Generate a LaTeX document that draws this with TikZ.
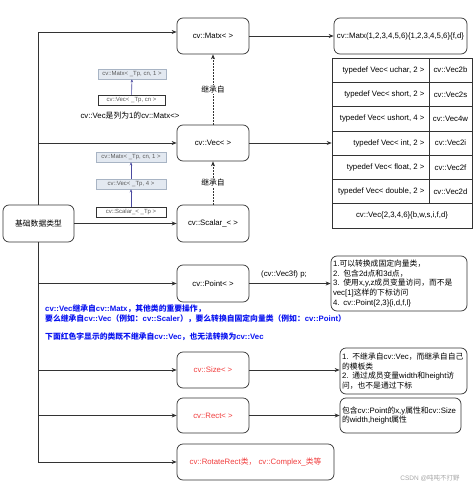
\documentclass[tikz,border=0pt]{standalone}
\usepackage{fontspec}
\setmainfont{Liberation Sans}
\newfontfamily\cjk{Noto Sans CJK SC}
\newcommand\zh[1]{{\cjk #1}}
\usetikzlibrary{arrows.meta}
\definecolor{lc}{HTML}{333333}
\definecolor{sbfill}{HTML}{E3E9F1}
\definecolor{sbdraw}{HTML}{A8B4C4}
\definecolor{sbarrow}{HTML}{4A4AA0}
\definecolor{bluetxt}{HTML}{0A14F0}
\definecolor{redtxt}{HTML}{F03C3C}
\begin{document}
\begin{tikzpicture}[x=1pt,y=-1pt,
  every node/.style={font=\fontsize{7.8}{9.7}\selectfont, text=black},
  box/.style={draw=lc, rounded corners=6pt, line width=0.7pt, inner sep=1pt},
  cell/.style={draw=lc, line width=0.6pt},
  arr/.style={draw=lc, line width=0.7pt, -{Stealth[length=5pt,width=4pt]}},
  dotarr/.style={draw=lc, line width=0.7pt, dash pattern=on 1.5pt off 1.5pt, -{Stealth[length=5pt,width=4pt]}},
  small/.style={font=\fontsize{6}{7}\selectfont, text=black!65, inner sep=0pt, line width=0.5pt},
  sbox/.style={small, draw=sbdraw, fill=sbfill},
  wbox/.style={small, draw=lc, fill=white},
  sarr/.style={draw=sbarrow, line width=0.6pt, -{Stealth[length=3pt,width=2.5pt]}},
  lbl/.style={fill=white, inner sep=1pt},
  red/.style={text=redtxt}
]
\useasboundingbox (0,0) rectangle (474,487);

% main boxes
\node[box, minimum width=72pt, minimum height=36pt] (matx) at (213,36) {cv::Matx< >};
\node[box, minimum width=72pt, minimum height=36pt] (vec) at (213,143) {cv::Vec< >};
\node[box, minimum width=72pt, minimum height=37pt] (scalar) at (213,223.5) {cv::Scalar\_< >};
\node[box, minimum width=71pt, minimum height=37pt] (base) at (38.5,223.5) {\zh{基础数据类型}};
\node[box, minimum width=72pt, minimum height=37pt] (point) at (213,283.5) {cv::Point< >};
\node[box, red, minimum width=72pt, minimum height=36pt] (size) at (213,370) {cv::Size< >};
\node[box, red, minimum width=72pt, minimum height=35pt] (rect) at (213,415.5) {cv::Rect< >};
\node[box, red, minimum width=157pt, minimum height=36pt] (rot) at (255.5,462) {cv::RotateRect\zh{类，} cv::Complex\_\zh{类等}};

% right side boxes
\node[box, minimum width=133pt, minimum height=36pt] (matxex) at (400.5,36) {cv::Matx(1,2,3,4,5,6)\{1,2,3,4,5,6\}\{f,d\}};
\node[box, minimum width=136pt, minimum height=55pt, align=left, text width=132pt, inner sep=2pt] (pointdesc) at (399,283.5)
  {1.\zh{可以转换成固定向量类，}\\2. \zh{包含}2d\zh{点和}3d\zh{点，}\\3. \zh{使用}x,y,z\zh{成员变量访问，而不是}\\vec[1]\zh{这样的下标访问}\\4. cv::Point\{2,3\}\{i,d,f,l\}};
\node[box, minimum width=127pt, minimum height=46pt, align=left, text width=123pt, inner sep=2pt] (sizedesc) at (403.5,371)
  {1. \zh{不继承自}cv::Vec\zh{，而继承自自己}\\\zh{的模板类}\\2. \zh{通过成员变量}width\zh{和}height\zh{访}\\\zh{问，也不是通过下标}};
\node[box, minimum width=121pt, minimum height=35pt, align=left, text width=117pt, inner sep=2pt] (rectdesc) at (400.5,415.5)
  {\zh{包含}cv::Point\zh{的}x,y\zh{属性和}cv::Size\\\zh{的}width,height\zh{属性}};

% table
\node[cell, minimum width=140pt, minimum height=170pt, inner sep=0pt] (tbl) at (402,143) {};
\foreach \yy in {82.3,106.6,130.9,155.1,179.4,203.7} {
  \draw[cell] (332,\yy) -- (472,\yy);
}
\draw[cell] (429,58) -- (429,203.7);
\node[anchor=east] (t1) at (428,70.1) {typedef Vec< uchar, 2 >};
\node[anchor=east] (t2) at (428,94.4) {typedef Vec< short, 2 >};
\node[anchor=east] (t3) at (428,118.7) {typedef Vec< ushort, 4 >};
\node[anchor=east] (t4) at (428,143) {typedef Vec< int, 2 >};
\node[anchor=east] (t5) at (428,167.3) {typedef Vec< float, 2 >};
\node[anchor=east] (t6) at (428,191.6) {typedef Vec< double, 2 >};
\node (v1) at (450.5,70.1) {cv::Vec2b};
\node (v2) at (450.5,94.4) {cv::Vec2s};
\node (v3) at (450.5,118.7) {cv::Vec4w};
\node (v4) at (450.5,143) {cv::Vec2i};
\node (v5) at (450.5,167.3) {cv::Vec2f};
\node (v6) at (450.5,191.6) {cv::Vec2d};
\node (v7) at (402,215.9) {cv::Vec\{2,3,4,6\}\{b,w,s,i,f,d\}};

% small stacks
\node[sbox, minimum width=68pt, minimum height=10pt] (s1) at (132,74) {cv::Matx< \_Tp, cn, 1 >};
\node[wbox, minimum width=67pt, minimum height=10pt] (s2) at (131.5,100) {cv::Vec< \_Tp, cn >};
\node (note) at (130,116) {cv::Vec\zh{是列为}1\zh{的}cv::Matx<>};
\draw[sarr] (s2) -- (s1);
\node[sbox, minimum width=70pt, minimum height=10pt] (s3) at (131,157) {cv::Matx< \_Tp, cn, 1 >};
\node[sbox, minimum width=70pt, minimum height=10pt] (s4) at (131,184) {cv::Vec< \_Tp, 4 >};
\node[wbox, minimum width=70pt, minimum height=10pt] (s5) at (131,212) {cv::Scalar\_< \_Tp >};
\draw[sarr] (s5) -- (s4);
\draw[sarr] (s4) -- (s3);

% trunk and branches
\draw[arr] (base.north) |- ([yshift=4pt]matx.west);
\draw[arr] (base.north |- vec.west) -- (vec.west);
\draw[arr] (base.east) -- (scalar.west);
\draw[arr] (base.south) |- (rot.west);
\draw[arr] (base.south |- point.west) -- (point.west);
\draw[arr] (base.south |- size.west) -- (size.west);
\draw[arr] (base.south |- rect.west) -- (rect.west);

% right arrows
\draw[arr] (matx.east) -- (matxex.west);
\draw[arr] (vec.east) -- (tbl.west);
\draw[arr] (point.east) -- (pointdesc.west);
\node (plbl) at (284,274) {(cv::Vec3f) p;};
\draw[arr] (size.east) -- (size.east -| sizedesc.west);
\draw[arr] (rect.east) -- (rectdesc.west);

% inheritance
\draw[dotarr] (vec) -- (matx) node[lbl, midway] (inh1) {\zh{继承自}};
\draw[dotarr] (scalar) -- (vec) node[lbl, midway] (inh2) {\zh{继承自}};

% blue note
\node[anchor=north west, align=left, inner sep=0pt, text=bluetxt, font=\bfseries\fontsize{7.8}{9.3}\selectfont] (bnote) at (45,305)
  {cv::Vec\zh{继承自}cv::Matx\zh{，其他类的重要操作，}\\
   \zh{要么继承自}cv::Vec\zh{（例如：}cv::Scaler\zh{），要么转换自固定向量类（例如：}cv::Point\zh{）}\\[9.3pt]
   \zh{下面红色字显示的类既不继承自}cv::Vec\zh{，也无法转换为}cv::Vec};

% watermark
\node[text=black!35, font=\fontsize{6.5}{8}\selectfont] (wm) at (430,478) {CSDN @\zh{吨吨不打野}};
\end{tikzpicture}
\end{document}
